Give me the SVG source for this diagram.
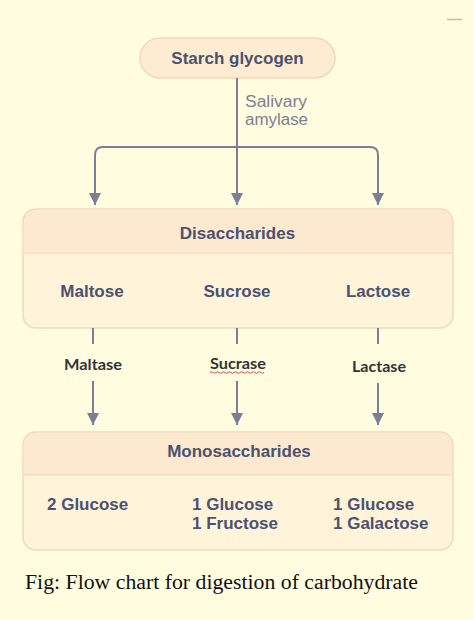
<svg xmlns="http://www.w3.org/2000/svg" width="474" height="620" viewBox="0 0 474 620">
<defs>
<style>
.t{font-family:"Liberation Sans",Arial,sans-serif;font-weight:bold;font-size:17px;fill:#4b5270}
.s{font-family:"Liberation Sans",Arial,sans-serif;font-size:16px;fill:#7d8190}
.e{font-family:Lato,"Open Sans",sans-serif;font-weight:bold;font-size:16px;fill:#333338}
.ln{stroke:#7b7f95;stroke-width:2;fill:none}
.box{fill:#fff4da;stroke:#f2d8bc;stroke-width:1.5}
.hd{fill:#fde9cf}
</style>
<marker id="ah" viewBox="0 0 10 10" refX="10" refY="5" markerWidth="6" markerHeight="6" markerUnits="strokeWidth" orient="auto">
<path d="M0,0 L10,5 L0,10 Z" fill="#7b7f95"/>
</marker>
</defs>
<rect width="474" height="620" fill="#fffcdf"/>
<line x1="447" y1="19.5" x2="462" y2="19.5" stroke="#cbbd9e" stroke-width="1.5"/>

<g id="starch">
<rect x="140" y="38" width="195" height="40" rx="20" fill="#fdebd2" stroke="#f2d8bc" stroke-width="1.5"/>
<text class="t" x="237.5" y="64" text-anchor="middle">Starch glycogen</text>
</g>

<g id="disaccharides">
<rect class="box" x="23" y="209" width="430" height="119" rx="13"/>
<path class="hd" d="M36,209.75 H440 A12.25,12.25 0 0 1 452.25,222 V253 H23.75 V222 A12.25,12.25 0 0 1 36,209.75 Z"/>
<line x1="23.75" y1="253" x2="452.25" y2="253" stroke="#f2d8bc" stroke-width="1.2"/>
<text class="t" x="237.5" y="239" text-anchor="middle">Disaccharides</text>
<text class="t" x="92" y="297" text-anchor="middle">Maltose</text>
<text class="t" x="237" y="297" text-anchor="middle">Sucrose</text>
<text class="t" x="378" y="297" text-anchor="middle">Lactose</text>
</g>

<g id="monosaccharides">
<rect class="box" x="23" y="432" width="430" height="118" rx="13"/>
<path class="hd" d="M36,432.75 H440 A12.25,12.25 0 0 1 452.25,445 V475 H23.75 V445 A12.25,12.25 0 0 1 36,432.75 Z"/>
<line x1="23.75" y1="475" x2="452.25" y2="475" stroke="#f2d8bc" stroke-width="1.2"/>
<text class="t" x="239" y="457" text-anchor="middle">Monosaccharides</text>
<text class="t" x="47" y="510">2 Glucose</text>
<text class="t" x="192" y="510">1 Glucose</text>
<text class="t" x="192" y="529">1 Fructose</text>
<text class="t" x="333" y="510">1 Glucose</text>
<text class="t" x="333" y="529">1 Galactose</text>
</g>

<g id="connectors">
<line class="ln" x1="237" y1="78" x2="237" y2="205" marker-end="url(#ah)"/>
<path class="ln" d="M95,205 V155 Q95,147 103,147 H370 Q378,147 378,155 V205" marker-end="url(#ah)"/>
<path class="ln" d="M95,195 V205" marker-end="url(#ah)"/>
<line class="ln" x1="93" y1="328" x2="93" y2="344"/>
<line class="ln" x1="237" y1="328" x2="237" y2="344"/>
<line class="ln" x1="378" y1="328" x2="378" y2="344"/>
<line class="ln" x1="93" y1="381" x2="93" y2="425" marker-end="url(#ah)"/>
<line class="ln" x1="237" y1="381" x2="237" y2="425" marker-end="url(#ah)"/>
<line class="ln" x1="378" y1="383" x2="378" y2="425" marker-end="url(#ah)"/>
</g>

<g id="labels">
<text class="s" x="245" y="107" textLength="62" lengthAdjust="spacingAndGlyphs">Salivary</text>
<text class="s" x="245" y="125" textLength="63" lengthAdjust="spacingAndGlyphs">amylase</text>
<text class="e" x="93" y="370" text-anchor="middle" textLength="58" lengthAdjust="spacingAndGlyphs">Maltase</text>
<text class="e" x="238" y="369" text-anchor="middle" textLength="56" lengthAdjust="spacingAndGlyphs">Sucrase</text>
<path d="M210,372.5 q1.5,-1.5 3,0 t3,0 t3,0 t3,0 t3,0 t3,0 t3,0 t3,0 t3,0 t3,0 t3,0 t3,0 t3,0 t3,0 t3,0 t3,0 t3,0 t3,0" fill="none" stroke="#d43b3b" stroke-width="0.9"/>
<text class="e" x="379" y="372" text-anchor="middle" textLength="54" lengthAdjust="spacingAndGlyphs">Lactase</text>
<text x="25" y="589" font-family="'Liberation Serif','Times New Roman',serif" font-size="20" fill="#111" textLength="393" lengthAdjust="spacingAndGlyphs">Fig: Flow chart for digestion of carbohydrate</text>
</g>
</svg>
